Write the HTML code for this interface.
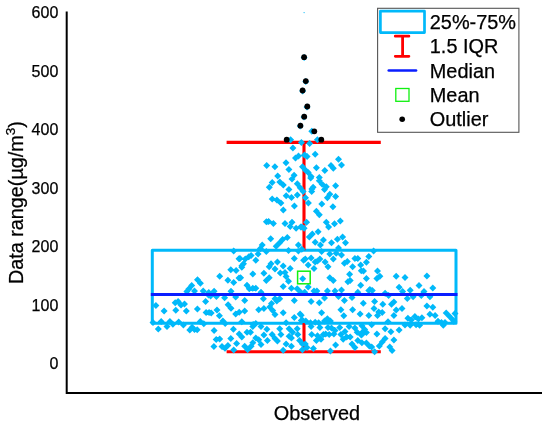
<!DOCTYPE html>
<html><head><meta charset="utf-8"><style>
html,body{margin:0;padding:0;background:#fff;}
svg{display:block;}
text{font-family:"Liberation Sans",Arial,sans-serif;fill:#000;stroke:#000;stroke-width:0.25px;}
</style></head><body>
<svg width="550" height="428" viewBox="0 0 550 428">
<rect width="550" height="428" fill="#fff"/>
<g font-size="16"><text x="58.3" y="369.3" text-anchor="end">0</text><text x="58.3" y="310.8" text-anchor="end">100</text><text x="58.3" y="252.2" text-anchor="end">200</text><text x="58.3" y="193.7" text-anchor="end">300</text><text x="58.3" y="135.1" text-anchor="end">400</text><text x="58.3" y="76.5" text-anchor="end">500</text><text x="58.3" y="18.0" text-anchor="end">600</text></g>
<text font-size="19.8" transform="translate(23.3,202.6) rotate(-90)" text-anchor="middle">Data range(µg/m<tspan font-size="13.5" dy="-8">3</tspan><tspan dy="8">)</tspan></text>
<text font-size="19.9" x="316.9" y="419.5" text-anchor="middle">Observed</text>
<path d="M66.7 11.6V393H542" fill="none" stroke="#000" stroke-width="2"/>
<rect x="152.3" y="250.3" width="303.7" height="72.9" fill="none" stroke="#00B9FA" stroke-width="3" stroke-linejoin="round"/>
<path d="M304 142.4V250.2M304 323V351.8M226.6 142.4H380.8M226.6 351.8H380.8" stroke="#FF0000" stroke-width="3.1" fill="none"/>
<path d="M304.1 54.1l3.5 3.5l-3.5 3.5l-3.5 -3.5zM305.8 78.0l3.5 3.5l-3.5 3.5l-3.5 -3.5zM302.6 87.4l3.5 3.5l-3.5 3.5l-3.5 -3.5zM307.0 103.4l3.5 3.5l-3.5 3.5l-3.5 -3.5zM304.0 113.6l3.5 3.5l-3.5 3.5l-3.5 -3.5zM300.2 122.6l3.5 3.5l-3.5 3.5l-3.5 -3.5zM290.6 136.2l3.5 3.5l-3.5 3.5l-3.5 -3.5zM301.4 139.0l3.5 3.5l-3.5 3.5l-3.5 -3.5zM309.6 140.0l3.5 3.5l-3.5 3.5l-3.5 -3.5zM311.8 127.8l3.5 3.5l-3.5 3.5l-3.5 -3.5zM317.4 136.2l3.5 3.5l-3.5 3.5l-3.5 -3.5zM292.9 144.6l3.5 3.5l-3.5 3.5l-3.5 -3.5zM315.2 150.8l3.5 3.5l-3.5 3.5l-3.5 -3.5zM295.5 154.6l3.5 3.5l-3.5 3.5l-3.5 -3.5zM298.5 152.5l3.5 3.5l-3.5 3.5l-3.5 -3.5zM304.5 151.6l3.5 3.5l-3.5 3.5l-3.5 -3.5zM307.1 153.1l3.5 3.5l-3.5 3.5l-3.5 -3.5zM338.5 155.8l3.5 3.5l-3.5 3.5l-3.5 -3.5zM341.5 161.6l3.5 3.5l-3.5 3.5l-3.5 -3.5zM331.0 161.9l3.5 3.5l-3.5 3.5l-3.5 -3.5zM333.3 164.8l3.5 3.5l-3.5 3.5l-3.5 -3.5zM316.4 164.2l3.5 3.5l-3.5 3.5l-3.5 -3.5zM324.8 167.1l3.5 3.5l-3.5 3.5l-3.5 -3.5zM266.7 161.9l3.5 3.5l-3.5 3.5l-3.5 -3.5zM274.9 163.3l3.5 3.5l-3.5 3.5l-3.5 -3.5zM286.0 159.2l3.5 3.5l-3.5 3.5l-3.5 -3.5zM288.9 166.0l3.5 3.5l-3.5 3.5l-3.5 -3.5zM302.5 163.3l3.5 3.5l-3.5 3.5l-3.5 -3.5zM305.3 166.5l3.5 3.5l-3.5 3.5l-3.5 -3.5zM308.2 168.9l3.5 3.5l-3.5 3.5l-3.5 -3.5zM311.1 173.0l3.5 3.5l-3.5 3.5l-3.5 -3.5zM277.7 172.4l3.5 3.5l-3.5 3.5l-3.5 -3.5zM294.1 171.8l3.5 3.5l-3.5 3.5l-3.5 -3.5zM319.3 174.1l3.5 3.5l-3.5 3.5l-3.5 -3.5zM272.2 179.1l3.5 3.5l-3.5 3.5l-3.5 -3.5zM269.3 183.8l3.5 3.5l-3.5 3.5l-3.5 -3.5zM279.8 178.5l3.5 3.5l-3.5 3.5l-3.5 -3.5zM283.3 181.4l3.5 3.5l-3.5 3.5l-3.5 -3.5zM292.0 175.6l3.5 3.5l-3.5 3.5l-3.5 -3.5zM297.3 180.3l3.5 3.5l-3.5 3.5l-3.5 -3.5zM300.2 184.3l3.5 3.5l-3.5 3.5l-3.5 -3.5zM303.1 187.9l3.5 3.5l-3.5 3.5l-3.5 -3.5zM288.9 186.1l3.5 3.5l-3.5 3.5l-3.5 -3.5zM286.2 192.3l3.5 3.5l-3.5 3.5l-3.5 -3.5zM291.5 193.9l3.5 3.5l-3.5 3.5l-3.5 -3.5zM297.3 191.4l3.5 3.5l-3.5 3.5l-3.5 -3.5zM272.2 195.4l3.5 3.5l-3.5 3.5l-3.5 -3.5zM276.9 196.6l3.5 3.5l-3.5 3.5l-3.5 -3.5zM280.9 199.5l3.5 3.5l-3.5 3.5l-3.5 -3.5zM294.4 202.4l3.5 3.5l-3.5 3.5l-3.5 -3.5zM283.3 206.5l3.5 3.5l-3.5 3.5l-3.5 -3.5zM305.5 194.3l3.5 3.5l-3.5 3.5l-3.5 -3.5zM308.4 199.5l3.5 3.5l-3.5 3.5l-3.5 -3.5zM310.7 174.4l3.5 3.5l-3.5 3.5l-3.5 -3.5zM311.9 185.5l3.5 3.5l-3.5 3.5l-3.5 -3.5zM266.4 218.2l3.5 3.5l-3.5 3.5l-3.5 -3.5zM273.4 220.0l3.5 3.5l-3.5 3.5l-3.5 -3.5zM285.0 220.0l3.5 3.5l-3.5 3.5l-3.5 -3.5zM292.0 218.8l3.5 3.5l-3.5 3.5l-3.5 -3.5zM306.6 218.8l3.5 3.5l-3.5 3.5l-3.5 -3.5zM319.3 177.3l3.5 3.5l-3.5 3.5l-3.5 -3.5zM322.2 180.8l3.5 3.5l-3.5 3.5l-3.5 -3.5zM335.6 182.2l3.5 3.5l-3.5 3.5l-3.5 -3.5zM313.1 183.8l3.5 3.5l-3.5 3.5l-3.5 -3.5zM311.7 187.9l3.5 3.5l-3.5 3.5l-3.5 -3.5zM326.3 183.2l3.5 3.5l-3.5 3.5l-3.5 -3.5zM324.5 186.1l3.5 3.5l-3.5 3.5l-3.5 -3.5zM329.8 190.8l3.5 3.5l-3.5 3.5l-3.5 -3.5zM327.4 194.3l3.5 3.5l-3.5 3.5l-3.5 -3.5zM335.6 193.1l3.5 3.5l-3.5 3.5l-3.5 -3.5zM321.8 200.5l3.5 3.5l-3.5 3.5l-3.5 -3.5zM332.9 203.3l3.5 3.5l-3.5 3.5l-3.5 -3.5zM316.4 207.7l3.5 3.5l-3.5 3.5l-3.5 -3.5zM319.3 211.2l3.5 3.5l-3.5 3.5l-3.5 -3.5zM326.3 218.8l3.5 3.5l-3.5 3.5l-3.5 -3.5zM334.5 220.3l3.5 3.5l-3.5 3.5l-3.5 -3.5zM340.3 217.6l3.5 3.5l-3.5 3.5l-3.5 -3.5zM268.6 217.9l3.5 3.5l-3.5 3.5l-3.5 -3.5zM290.2 222.9l3.5 3.5l-3.5 3.5l-3.5 -3.5zM296.1 224.7l3.5 3.5l-3.5 3.5l-3.5 -3.5zM300.7 223.5l3.5 3.5l-3.5 3.5l-3.5 -3.5zM270.7 235.2l3.5 3.5l-3.5 3.5l-3.5 -3.5zM287.3 234.0l3.5 3.5l-3.5 3.5l-3.5 -3.5zM276.2 242.8l3.5 3.5l-3.5 3.5l-3.5 -3.5zM279.7 239.3l3.5 3.5l-3.5 3.5l-3.5 -3.5zM282.6 236.1l3.5 3.5l-3.5 3.5l-3.5 -3.5zM262.2 241.6l3.5 3.5l-3.5 3.5l-3.5 -3.5zM260.4 245.1l3.5 3.5l-3.5 3.5l-3.5 -3.5zM266.3 248.0l3.5 3.5l-3.5 3.5l-3.5 -3.5zM288.5 246.9l3.5 3.5l-3.5 3.5l-3.5 -3.5zM298.4 241.6l3.5 3.5l-3.5 3.5l-3.5 -3.5zM298.4 247.5l3.5 3.5l-3.5 3.5l-3.5 -3.5zM258.1 250.4l3.5 3.5l-3.5 3.5l-3.5 -3.5zM248.8 253.3l3.5 3.5l-3.5 3.5l-3.5 -3.5zM251.1 252.1l3.5 3.5l-3.5 3.5l-3.5 -3.5zM245.3 255.6l3.5 3.5l-3.5 3.5l-3.5 -3.5zM255.8 256.8l3.5 3.5l-3.5 3.5l-3.5 -3.5zM243.5 260.3l3.5 3.5l-3.5 3.5l-3.5 -3.5zM294.3 255.0l3.5 3.5l-3.5 3.5l-3.5 -3.5zM271.0 260.3l3.5 3.5l-3.5 3.5l-3.5 -3.5zM277.4 258.5l3.5 3.5l-3.5 3.5l-3.5 -3.5zM269.2 263.2l3.5 3.5l-3.5 3.5l-3.5 -3.5zM283.2 262.6l3.5 3.5l-3.5 3.5l-3.5 -3.5zM275.0 265.6l3.5 3.5l-3.5 3.5l-3.5 -3.5zM290.2 265.0l3.5 3.5l-3.5 3.5l-3.5 -3.5zM303.6 256.8l3.5 3.5l-3.5 3.5l-3.5 -3.5zM240.0 255.0l3.5 3.5l-3.5 3.5l-3.5 -3.5zM301.8 223.5l3.5 3.5l-3.5 3.5l-3.5 -3.5zM304.1 224.7l3.5 3.5l-3.5 3.5l-3.5 -3.5zM328.6 223.5l3.5 3.5l-3.5 3.5l-3.5 -3.5zM318.1 228.2l3.5 3.5l-3.5 3.5l-3.5 -3.5zM312.3 230.5l3.5 3.5l-3.5 3.5l-3.5 -3.5zM309.3 233.4l3.5 3.5l-3.5 3.5l-3.5 -3.5zM323.4 236.4l3.5 3.5l-3.5 3.5l-3.5 -3.5zM315.2 238.7l3.5 3.5l-3.5 3.5l-3.5 -3.5zM320.4 241.6l3.5 3.5l-3.5 3.5l-3.5 -3.5zM331.5 239.3l3.5 3.5l-3.5 3.5l-3.5 -3.5zM337.4 235.8l3.5 3.5l-3.5 3.5l-3.5 -3.5zM342.6 233.4l3.5 3.5l-3.5 3.5l-3.5 -3.5zM345.5 239.3l3.5 3.5l-3.5 3.5l-3.5 -3.5zM301.8 245.7l3.5 3.5l-3.5 3.5l-3.5 -3.5zM321.6 248.0l3.5 3.5l-3.5 3.5l-3.5 -3.5zM338.5 244.5l3.5 3.5l-3.5 3.5l-3.5 -3.5zM329.8 250.4l3.5 3.5l-3.5 3.5l-3.5 -3.5zM336.2 249.8l3.5 3.5l-3.5 3.5l-3.5 -3.5zM341.5 251.5l3.5 3.5l-3.5 3.5l-3.5 -3.5zM333.3 255.6l3.5 3.5l-3.5 3.5l-3.5 -3.5zM305.3 255.6l3.5 3.5l-3.5 3.5l-3.5 -3.5zM311.1 254.5l3.5 3.5l-3.5 3.5l-3.5 -3.5zM317.5 257.4l3.5 3.5l-3.5 3.5l-3.5 -3.5zM319.9 255.6l3.5 3.5l-3.5 3.5l-3.5 -3.5zM325.1 258.5l3.5 3.5l-3.5 3.5l-3.5 -3.5zM308.2 261.5l3.5 3.5l-3.5 3.5l-3.5 -3.5zM315.2 258.5l3.5 3.5l-3.5 3.5l-3.5 -3.5zM328.0 263.2l3.5 3.5l-3.5 3.5l-3.5 -3.5zM314.0 265.0l3.5 3.5l-3.5 3.5l-3.5 -3.5zM344.4 259.7l3.5 3.5l-3.5 3.5l-3.5 -3.5zM347.3 258.0l3.5 3.5l-3.5 3.5l-3.5 -3.5zM354.9 255.0l3.5 3.5l-3.5 3.5l-3.5 -3.5zM357.8 255.0l3.5 3.5l-3.5 3.5l-3.5 -3.5zM352.6 263.2l3.5 3.5l-3.5 3.5l-3.5 -3.5zM360.7 261.5l3.5 3.5l-3.5 3.5l-3.5 -3.5zM241.8 263.7l3.5 3.5l-3.5 3.5l-3.5 -3.5zM263.9 269.7l3.5 3.5l-3.5 3.5l-3.5 -3.5zM252.8 270.4l3.5 3.5l-3.5 3.5l-3.5 -3.5zM280.3 269.5l3.5 3.5l-3.5 3.5l-3.5 -3.5zM285.0 268.9l3.5 3.5l-3.5 3.5l-3.5 -3.5zM286.1 273.0l3.5 3.5l-3.5 3.5l-3.5 -3.5zM240.6 274.2l3.5 3.5l-3.5 3.5l-3.5 -3.5zM269.2 274.2l3.5 3.5l-3.5 3.5l-3.5 -3.5zM266.3 277.1l3.5 3.5l-3.5 3.5l-3.5 -3.5zM288.5 277.7l3.5 3.5l-3.5 3.5l-3.5 -3.5zM302.7 275.2l3.5 3.5l-3.5 3.5l-3.5 -3.5zM247.0 281.8l3.5 3.5l-3.5 3.5l-3.5 -3.5zM249.3 285.3l3.5 3.5l-3.5 3.5l-3.5 -3.5zM252.8 284.7l3.5 3.5l-3.5 3.5l-3.5 -3.5zM255.8 284.7l3.5 3.5l-3.5 3.5l-3.5 -3.5zM261.0 288.8l3.5 3.5l-3.5 3.5l-3.5 -3.5zM283.2 282.9l3.5 3.5l-3.5 3.5l-3.5 -3.5zM291.4 284.7l3.5 3.5l-3.5 3.5l-3.5 -3.5zM297.2 285.3l3.5 3.5l-3.5 3.5l-3.5 -3.5zM300.7 288.8l3.5 3.5l-3.5 3.5l-3.5 -3.5zM244.7 297.0l3.5 3.5l-3.5 3.5l-3.5 -3.5zM263.4 295.2l3.5 3.5l-3.5 3.5l-3.5 -3.5zM275.0 295.2l3.5 3.5l-3.5 3.5l-3.5 -3.5zM279.7 295.2l3.5 3.5l-3.5 3.5l-3.5 -3.5zM276.8 297.5l3.5 3.5l-3.5 3.5l-3.5 -3.5zM294.3 297.0l3.5 3.5l-3.5 3.5l-3.5 -3.5zM271.5 299.9l3.5 3.5l-3.5 3.5l-3.5 -3.5zM258.7 306.3l3.5 3.5l-3.5 3.5l-3.5 -3.5zM263.9 305.1l3.5 3.5l-3.5 3.5l-3.5 -3.5zM269.8 303.4l3.5 3.5l-3.5 3.5l-3.5 -3.5zM272.7 306.9l3.5 3.5l-3.5 3.5l-3.5 -3.5zM244.7 307.5l3.5 3.5l-3.5 3.5l-3.5 -3.5zM283.2 309.2l3.5 3.5l-3.5 3.5l-3.5 -3.5zM275.0 311.0l3.5 3.5l-3.5 3.5l-3.5 -3.5zM300.1 310.4l3.5 3.5l-3.5 3.5l-3.5 -3.5zM361.3 267.2l3.5 3.5l-3.5 3.5l-3.5 -3.5zM349.6 270.7l3.5 3.5l-3.5 3.5l-3.5 -3.5zM329.8 274.2l3.5 3.5l-3.5 3.5l-3.5 -3.5zM333.3 277.1l3.5 3.5l-3.5 3.5l-3.5 -3.5zM347.9 278.3l3.5 3.5l-3.5 3.5l-3.5 -3.5zM350.2 277.1l3.5 3.5l-3.5 3.5l-3.5 -3.5zM360.7 281.8l3.5 3.5l-3.5 3.5l-3.5 -3.5zM308.2 283.5l3.5 3.5l-3.5 3.5l-3.5 -3.5zM314.0 287.6l3.5 3.5l-3.5 3.5l-3.5 -3.5zM316.9 287.6l3.5 3.5l-3.5 3.5l-3.5 -3.5zM327.4 287.6l3.5 3.5l-3.5 3.5l-3.5 -3.5zM335.0 287.6l3.5 3.5l-3.5 3.5l-3.5 -3.5zM341.5 286.4l3.5 3.5l-3.5 3.5l-3.5 -3.5zM357.8 288.8l3.5 3.5l-3.5 3.5l-3.5 -3.5zM304.7 288.8l3.5 3.5l-3.5 3.5l-3.5 -3.5zM324.5 294.6l3.5 3.5l-3.5 3.5l-3.5 -3.5zM338.5 292.9l3.5 3.5l-3.5 3.5l-3.5 -3.5zM311.1 298.1l3.5 3.5l-3.5 3.5l-3.5 -3.5zM319.3 299.3l3.5 3.5l-3.5 3.5l-3.5 -3.5zM344.4 297.0l3.5 3.5l-3.5 3.5l-3.5 -3.5zM352.0 294.0l3.5 3.5l-3.5 3.5l-3.5 -3.5zM363.3 299.7l3.5 3.5l-3.5 3.5l-3.5 -3.5zM340.9 306.3l3.5 3.5l-3.5 3.5l-3.5 -3.5zM352.6 306.3l3.5 3.5l-3.5 3.5l-3.5 -3.5zM321.6 309.2l3.5 3.5l-3.5 3.5l-3.5 -3.5zM360.1 310.4l3.5 3.5l-3.5 3.5l-3.5 -3.5zM294.3 314.1l3.5 3.5l-3.5 3.5l-3.5 -3.5zM241.8 318.2l3.5 3.5l-3.5 3.5l-3.5 -3.5zM252.8 322.9l3.5 3.5l-3.5 3.5l-3.5 -3.5zM255.8 319.9l3.5 3.5l-3.5 3.5l-3.5 -3.5zM261.0 322.9l3.5 3.5l-3.5 3.5l-3.5 -3.5zM286.1 319.3l3.5 3.5l-3.5 3.5l-3.5 -3.5zM301.3 317.0l3.5 3.5l-3.5 3.5l-3.5 -3.5zM247.0 328.7l3.5 3.5l-3.5 3.5l-3.5 -3.5zM250.5 328.7l3.5 3.5l-3.5 3.5l-3.5 -3.5zM266.9 325.8l3.5 3.5l-3.5 3.5l-3.5 -3.5zM263.9 331.6l3.5 3.5l-3.5 3.5l-3.5 -3.5zM272.1 331.0l3.5 3.5l-3.5 3.5l-3.5 -3.5zM279.7 325.2l3.5 3.5l-3.5 3.5l-3.5 -3.5zM280.9 331.0l3.5 3.5l-3.5 3.5l-3.5 -3.5zM289.1 325.2l3.5 3.5l-3.5 3.5l-3.5 -3.5zM297.2 325.2l3.5 3.5l-3.5 3.5l-3.5 -3.5zM292.6 328.7l3.5 3.5l-3.5 3.5l-3.5 -3.5zM241.8 333.4l3.5 3.5l-3.5 3.5l-3.5 -3.5zM255.8 334.5l3.5 3.5l-3.5 3.5l-3.5 -3.5zM258.7 336.3l3.5 3.5l-3.5 3.5l-3.5 -3.5zM267.4 336.9l3.5 3.5l-3.5 3.5l-3.5 -3.5zM275.0 335.1l3.5 3.5l-3.5 3.5l-3.5 -3.5zM277.4 337.4l3.5 3.5l-3.5 3.5l-3.5 -3.5zM289.1 332.8l3.5 3.5l-3.5 3.5l-3.5 -3.5zM291.4 334.5l3.5 3.5l-3.5 3.5l-3.5 -3.5zM297.8 331.0l3.5 3.5l-3.5 3.5l-3.5 -3.5zM299.6 336.9l3.5 3.5l-3.5 3.5l-3.5 -3.5zM252.8 339.2l3.5 3.5l-3.5 3.5l-3.5 -3.5zM261.0 341.0l3.5 3.5l-3.5 3.5l-3.5 -3.5zM244.7 342.7l3.5 3.5l-3.5 3.5l-3.5 -3.5zM247.6 346.2l3.5 3.5l-3.5 3.5l-3.5 -3.5zM251.1 342.7l3.5 3.5l-3.5 3.5l-3.5 -3.5zM286.1 340.4l3.5 3.5l-3.5 3.5l-3.5 -3.5zM291.4 342.7l3.5 3.5l-3.5 3.5l-3.5 -3.5zM283.2 346.8l3.5 3.5l-3.5 3.5l-3.5 -3.5zM302.5 346.2l3.5 3.5l-3.5 3.5l-3.5 -3.5zM302.5 340.4l3.5 3.5l-3.5 3.5l-3.5 -3.5zM343.8 312.3l3.5 3.5l-3.5 3.5l-3.5 -3.5zM301.2 311.8l3.5 3.5l-3.5 3.5l-3.5 -3.5zM327.4 315.3l3.5 3.5l-3.5 3.5l-3.5 -3.5zM330.4 317.6l3.5 3.5l-3.5 3.5l-3.5 -3.5zM302.3 316.4l3.5 3.5l-3.5 3.5l-3.5 -3.5zM305.8 317.6l3.5 3.5l-3.5 3.5l-3.5 -3.5zM310.5 319.3l3.5 3.5l-3.5 3.5l-3.5 -3.5zM315.2 318.8l3.5 3.5l-3.5 3.5l-3.5 -3.5zM318.7 319.3l3.5 3.5l-3.5 3.5l-3.5 -3.5zM324.5 317.6l3.5 3.5l-3.5 3.5l-3.5 -3.5zM311.1 322.9l3.5 3.5l-3.5 3.5l-3.5 -3.5zM319.9 324.0l3.5 3.5l-3.5 3.5l-3.5 -3.5zM328.0 324.0l3.5 3.5l-3.5 3.5l-3.5 -3.5zM331.5 324.6l3.5 3.5l-3.5 3.5l-3.5 -3.5zM335.0 326.9l3.5 3.5l-3.5 3.5l-3.5 -3.5zM339.7 324.0l3.5 3.5l-3.5 3.5l-3.5 -3.5zM349.1 322.9l3.5 3.5l-3.5 3.5l-3.5 -3.5zM354.9 324.6l3.5 3.5l-3.5 3.5l-3.5 -3.5zM361.9 322.3l3.5 3.5l-3.5 3.5l-3.5 -3.5zM311.7 331.0l3.5 3.5l-3.5 3.5l-3.5 -3.5zM317.5 332.2l3.5 3.5l-3.5 3.5l-3.5 -3.5zM323.4 331.0l3.5 3.5l-3.5 3.5l-3.5 -3.5zM325.7 330.4l3.5 3.5l-3.5 3.5l-3.5 -3.5zM329.2 331.0l3.5 3.5l-3.5 3.5l-3.5 -3.5zM333.9 330.4l3.5 3.5l-3.5 3.5l-3.5 -3.5zM340.9 331.0l3.5 3.5l-3.5 3.5l-3.5 -3.5zM345.0 328.1l3.5 3.5l-3.5 3.5l-3.5 -3.5zM346.7 333.4l3.5 3.5l-3.5 3.5l-3.5 -3.5zM350.2 333.4l3.5 3.5l-3.5 3.5l-3.5 -3.5zM357.2 328.7l3.5 3.5l-3.5 3.5l-3.5 -3.5zM361.3 331.6l3.5 3.5l-3.5 3.5l-3.5 -3.5zM316.4 336.9l3.5 3.5l-3.5 3.5l-3.5 -3.5zM321.0 335.7l3.5 3.5l-3.5 3.5l-3.5 -3.5zM343.2 335.7l3.5 3.5l-3.5 3.5l-3.5 -3.5zM357.8 336.9l3.5 3.5l-3.5 3.5l-3.5 -3.5zM305.3 340.4l3.5 3.5l-3.5 3.5l-3.5 -3.5zM335.6 341.5l3.5 3.5l-3.5 3.5l-3.5 -3.5zM352.0 340.4l3.5 3.5l-3.5 3.5l-3.5 -3.5zM354.9 343.9l3.5 3.5l-3.5 3.5l-3.5 -3.5zM307.0 343.9l3.5 3.5l-3.5 3.5l-3.5 -3.5zM313.4 345.0l3.5 3.5l-3.5 3.5l-3.5 -3.5zM302.3 346.2l3.5 3.5l-3.5 3.5l-3.5 -3.5zM330.4 347.4l3.5 3.5l-3.5 3.5l-3.5 -3.5zM361.9 339.2l3.5 3.5l-3.5 3.5l-3.5 -3.5zM233.7 247.6l3.5 3.5l-3.5 3.5l-3.5 -3.5zM239.0 255.2l3.5 3.5l-3.5 3.5l-3.5 -3.5zM241.9 262.2l3.5 3.5l-3.5 3.5l-3.5 -3.5zM230.8 266.3l3.5 3.5l-3.5 3.5l-3.5 -3.5zM236.1 266.9l3.5 3.5l-3.5 3.5l-3.5 -3.5zM219.7 272.7l3.5 3.5l-3.5 3.5l-3.5 -3.5zM227.9 276.8l3.5 3.5l-3.5 3.5l-3.5 -3.5zM233.7 279.1l3.5 3.5l-3.5 3.5l-3.5 -3.5zM239.0 274.5l3.5 3.5l-3.5 3.5l-3.5 -3.5zM197.5 276.2l3.5 3.5l-3.5 3.5l-3.5 -3.5zM200.4 279.7l3.5 3.5l-3.5 3.5l-3.5 -3.5zM191.7 282.0l3.5 3.5l-3.5 3.5l-3.5 -3.5zM188.8 285.6l3.5 3.5l-3.5 3.5l-3.5 -3.5zM186.9 288.1l3.5 3.5l-3.5 3.5l-3.5 -3.5zM194.5 287.5l3.5 3.5l-3.5 3.5l-3.5 -3.5zM203.2 287.5l3.5 3.5l-3.5 3.5l-3.5 -3.5zM208.5 291.6l3.5 3.5l-3.5 3.5l-3.5 -3.5zM155.9 302.1l3.5 3.5l-3.5 3.5l-3.5 -3.5zM164.1 307.4l3.5 3.5l-3.5 3.5l-3.5 -3.5zM175.2 299.2l3.5 3.5l-3.5 3.5l-3.5 -3.5zM178.1 298.0l3.5 3.5l-3.5 3.5l-3.5 -3.5zM181.0 301.5l3.5 3.5l-3.5 3.5l-3.5 -3.5zM184.5 300.4l3.5 3.5l-3.5 3.5l-3.5 -3.5zM175.8 306.8l3.5 3.5l-3.5 3.5l-3.5 -3.5zM186.3 307.4l3.5 3.5l-3.5 3.5l-3.5 -3.5zM197.4 305.6l3.5 3.5l-3.5 3.5l-3.5 -3.5zM205.6 298.0l3.5 3.5l-3.5 3.5l-3.5 -3.5zM206.1 309.1l3.5 3.5l-3.5 3.5l-3.5 -3.5zM209.1 309.1l3.5 3.5l-3.5 3.5l-3.5 -3.5zM153.0 319.0l3.5 3.5l-3.5 3.5l-3.5 -3.5zM161.2 317.9l3.5 3.5l-3.5 3.5l-3.5 -3.5zM158.3 325.4l3.5 3.5l-3.5 3.5l-3.5 -3.5zM167.0 323.1l3.5 3.5l-3.5 3.5l-3.5 -3.5zM169.9 317.9l3.5 3.5l-3.5 3.5l-3.5 -3.5zM172.9 320.8l3.5 3.5l-3.5 3.5l-3.5 -3.5zM178.7 318.4l3.5 3.5l-3.5 3.5l-3.5 -3.5zM183.4 321.4l3.5 3.5l-3.5 3.5l-3.5 -3.5zM189.8 326.6l3.5 3.5l-3.5 3.5l-3.5 -3.5zM194.5 326.0l3.5 3.5l-3.5 3.5l-3.5 -3.5zM200.3 317.9l3.5 3.5l-3.5 3.5l-3.5 -3.5zM203.8 320.2l3.5 3.5l-3.5 3.5l-3.5 -3.5zM192.1 323.7l3.5 3.5l-3.5 3.5l-3.5 -3.5zM208.8 288.9l3.5 3.5l-3.5 3.5l-3.5 -3.5zM214.1 287.8l3.5 3.5l-3.5 3.5l-3.5 -3.5zM216.4 293.0l3.5 3.5l-3.5 3.5l-3.5 -3.5zM210.6 292.4l3.5 3.5l-3.5 3.5l-3.5 -3.5zM224.6 294.2l3.5 3.5l-3.5 3.5l-3.5 -3.5zM231.0 287.8l3.5 3.5l-3.5 3.5l-3.5 -3.5zM235.7 293.6l3.5 3.5l-3.5 3.5l-3.5 -3.5zM228.1 301.2l3.5 3.5l-3.5 3.5l-3.5 -3.5zM231.0 304.7l3.5 3.5l-3.5 3.5l-3.5 -3.5zM211.2 309.4l3.5 3.5l-3.5 3.5l-3.5 -3.5zM217.0 306.5l3.5 3.5l-3.5 3.5l-3.5 -3.5zM219.4 312.3l3.5 3.5l-3.5 3.5l-3.5 -3.5zM235.7 310.5l3.5 3.5l-3.5 3.5l-3.5 -3.5zM239.2 308.8l3.5 3.5l-3.5 3.5l-3.5 -3.5zM222.9 317.5l3.5 3.5l-3.5 3.5l-3.5 -3.5zM225.2 319.9l3.5 3.5l-3.5 3.5l-3.5 -3.5zM253.2 321.0l3.5 3.5l-3.5 3.5l-3.5 -3.5zM214.1 326.9l3.5 3.5l-3.5 3.5l-3.5 -3.5zM233.4 325.7l3.5 3.5l-3.5 3.5l-3.5 -3.5zM197.2 326.3l3.5 3.5l-3.5 3.5l-3.5 -3.5zM239.2 330.4l3.5 3.5l-3.5 3.5l-3.5 -3.5zM216.2 336.0l3.5 3.5l-3.5 3.5l-3.5 -3.5zM219.7 335.4l3.5 3.5l-3.5 3.5l-3.5 -3.5zM230.8 334.9l3.5 3.5l-3.5 3.5l-3.5 -3.5zM236.6 340.1l3.5 3.5l-3.5 3.5l-3.5 -3.5zM213.9 343.0l3.5 3.5l-3.5 3.5l-3.5 -3.5zM222.0 343.0l3.5 3.5l-3.5 3.5l-3.5 -3.5zM225.0 344.8l3.5 3.5l-3.5 3.5l-3.5 -3.5zM227.9 341.9l3.5 3.5l-3.5 3.5l-3.5 -3.5zM233.7 346.5l3.5 3.5l-3.5 3.5l-3.5 -3.5zM373.6 247.5l3.5 3.5l-3.5 3.5l-3.5 -3.5zM368.8 252.9l3.5 3.5l-3.5 3.5l-3.5 -3.5zM366.4 258.7l3.5 3.5l-3.5 3.5l-3.5 -3.5zM363.5 267.4l3.5 3.5l-3.5 3.5l-3.5 -3.5zM377.5 267.4l3.5 3.5l-3.5 3.5l-3.5 -3.5zM379.9 272.7l3.5 3.5l-3.5 3.5l-3.5 -3.5zM376.9 275.0l3.5 3.5l-3.5 3.5l-3.5 -3.5zM366.4 275.0l3.5 3.5l-3.5 3.5l-3.5 -3.5zM396.2 272.7l3.5 3.5l-3.5 3.5l-3.5 -3.5zM405.0 273.9l3.5 3.5l-3.5 3.5l-3.5 -3.5zM399.1 283.8l3.5 3.5l-3.5 3.5l-3.5 -3.5zM419.0 282.0l3.5 3.5l-3.5 3.5l-3.5 -3.5zM369.9 286.1l3.5 3.5l-3.5 3.5l-3.5 -3.5zM410.2 286.8l3.5 3.5l-3.5 3.5l-3.5 -3.5zM426.9 272.5l3.5 3.5l-3.5 3.5l-3.5 -3.5zM432.8 284.4l3.5 3.5l-3.5 3.5l-3.5 -3.5zM368.8 287.1l3.5 3.5l-3.5 3.5l-3.5 -3.5zM372.3 287.1l3.5 3.5l-3.5 3.5l-3.5 -3.5zM402.6 287.9l3.5 3.5l-3.5 3.5l-3.5 -3.5zM385.1 289.7l3.5 3.5l-3.5 3.5l-3.5 -3.5zM388.6 292.0l3.5 3.5l-3.5 3.5l-3.5 -3.5zM407.3 294.9l3.5 3.5l-3.5 3.5l-3.5 -3.5zM413.1 293.2l3.5 3.5l-3.5 3.5l-3.5 -3.5zM421.3 292.0l3.5 3.5l-3.5 3.5l-3.5 -3.5zM374.6 297.9l3.5 3.5l-3.5 3.5l-3.5 -3.5zM382.8 300.8l3.5 3.5l-3.5 3.5l-3.5 -3.5zM391.5 300.8l3.5 3.5l-3.5 3.5l-3.5 -3.5zM393.9 298.4l3.5 3.5l-3.5 3.5l-3.5 -3.5zM374.0 304.9l3.5 3.5l-3.5 3.5l-3.5 -3.5zM378.7 308.4l3.5 3.5l-3.5 3.5l-3.5 -3.5zM382.2 308.9l3.5 3.5l-3.5 3.5l-3.5 -3.5zM377.5 311.9l3.5 3.5l-3.5 3.5l-3.5 -3.5zM368.8 311.9l3.5 3.5l-3.5 3.5l-3.5 -3.5zM396.2 306.6l3.5 3.5l-3.5 3.5l-3.5 -3.5zM402.0 304.9l3.5 3.5l-3.5 3.5l-3.5 -3.5zM393.9 311.9l3.5 3.5l-3.5 3.5l-3.5 -3.5zM407.9 314.8l3.5 3.5l-3.5 3.5l-3.5 -3.5zM414.9 313.0l3.5 3.5l-3.5 3.5l-3.5 -3.5zM418.4 315.4l3.5 3.5l-3.5 3.5l-3.5 -3.5zM421.9 314.2l3.5 3.5l-3.5 3.5l-3.5 -3.5zM388.0 318.3l3.5 3.5l-3.5 3.5l-3.5 -3.5zM371.7 321.2l3.5 3.5l-3.5 3.5l-3.5 -3.5zM410.2 321.8l3.5 3.5l-3.5 3.5l-3.5 -3.5zM416.1 321.2l3.5 3.5l-3.5 3.5l-3.5 -3.5zM419.6 321.8l3.5 3.5l-3.5 3.5l-3.5 -3.5zM364.7 325.9l3.5 3.5l-3.5 3.5l-3.5 -3.5zM362.9 328.2l3.5 3.5l-3.5 3.5l-3.5 -3.5zM385.1 325.3l3.5 3.5l-3.5 3.5l-3.5 -3.5zM399.1 326.5l3.5 3.5l-3.5 3.5l-3.5 -3.5zM390.9 328.2l3.5 3.5l-3.5 3.5l-3.5 -3.5zM376.9 330.6l3.5 3.5l-3.5 3.5l-3.5 -3.5zM424.0 287.9l3.5 3.5l-3.5 3.5l-3.5 -3.5zM429.9 293.2l3.5 3.5l-3.5 3.5l-3.5 -3.5zM426.9 302.5l3.5 3.5l-3.5 3.5l-3.5 -3.5zM432.8 303.7l3.5 3.5l-3.5 3.5l-3.5 -3.5zM429.9 310.7l3.5 3.5l-3.5 3.5l-3.5 -3.5zM435.1 311.9l3.5 3.5l-3.5 3.5l-3.5 -3.5zM446.2 309.5l3.5 3.5l-3.5 3.5l-3.5 -3.5zM449.1 312.4l3.5 3.5l-3.5 3.5l-3.5 -3.5zM452.0 315.4l3.5 3.5l-3.5 3.5l-3.5 -3.5zM455.0 310.1l3.5 3.5l-3.5 3.5l-3.5 -3.5zM411.2 316.5l3.5 3.5l-3.5 3.5l-3.5 -3.5zM438.0 317.7l3.5 3.5l-3.5 3.5l-3.5 -3.5zM441.5 318.9l3.5 3.5l-3.5 3.5l-3.5 -3.5zM445.0 318.9l3.5 3.5l-3.5 3.5l-3.5 -3.5zM453.8 317.7l3.5 3.5l-3.5 3.5l-3.5 -3.5zM443.3 321.8l3.5 3.5l-3.5 3.5l-3.5 -3.5zM405.0 321.4l3.5 3.5l-3.5 3.5l-3.5 -3.5zM366.4 329.0l3.5 3.5l-3.5 3.5l-3.5 -3.5zM362.3 330.8l3.5 3.5l-3.5 3.5l-3.5 -3.5zM385.1 334.9l3.5 3.5l-3.5 3.5l-3.5 -3.5zM382.2 338.4l3.5 3.5l-3.5 3.5l-3.5 -3.5zM379.3 342.5l3.5 3.5l-3.5 3.5l-3.5 -3.5zM393.9 336.6l3.5 3.5l-3.5 3.5l-3.5 -3.5zM389.8 343.6l3.5 3.5l-3.5 3.5l-3.5 -3.5zM392.1 347.1l3.5 3.5l-3.5 3.5l-3.5 -3.5zM366.4 339.5l3.5 3.5l-3.5 3.5l-3.5 -3.5zM369.3 342.5l3.5 3.5l-3.5 3.5l-3.5 -3.5zM371.7 343.6l3.5 3.5l-3.5 3.5l-3.5 -3.5zM374.6 348.3l3.5 3.5l-3.5 3.5l-3.5 -3.5z" fill="#00B9FA"/>
<path d="M150.8 294.5H457.5" stroke="#0A1EFF" stroke-width="3"/>
<rect x="297.6" y="271.2" width="12.6" height="12.6" fill="none" stroke="#10F010" stroke-width="1.5"/>
<g fill="#000"><circle cx="304.1" cy="57.2" r="2.9"/><circle cx="305.8" cy="81.1" r="2.9"/><circle cx="302.6" cy="90.5" r="2.9"/><circle cx="307.3" cy="106.5" r="2.9"/><circle cx="304.2" cy="116.7" r="2.9"/><circle cx="300.4" cy="125.7" r="2.9"/><circle cx="314.3" cy="131.3" r="2.9"/><circle cx="286.7" cy="139.7" r="2.9"/><circle cx="321.3" cy="139.7" r="2.9"/></g>
<circle cx="304.1" cy="12.6" r="0.6" fill="#00B9FA"/>
<rect x="377.6" y="8.3" width="141.3" height="124" fill="#fff" stroke="#555" stroke-width="1.1"/>
<rect x="380.4" y="11.2" width="44.1" height="21.4" fill="none" stroke="#00B9FA" stroke-width="2.7" stroke-linejoin="round"/>
<path d="M395.3 36.2H408.9M395.3 56.3H408.9M402.6 36.2V56.3" stroke="#FF0000" stroke-width="2.8" stroke-linecap="round"/>
<path d="M388.8 70.5H416" stroke="#0A1EFF" stroke-width="2.7" stroke-linecap="round"/>
<rect x="395.8" y="88.5" width="13.2" height="12.8" fill="none" stroke="#10F010" stroke-width="1.3"/>
<circle cx="402.2" cy="119.2" r="2.8" fill="#000"/>
<g font-size="19.9"><text x="429.8" y="28.5">25%-75%</text><text x="429.8" y="52.6">1.5 IQR</text><text x="429.8" y="77.6">Median</text><text x="429.8" y="101.7">Mean</text><text x="429.8" y="125.8">Outlier</text></g>
</svg>
</body></html>
